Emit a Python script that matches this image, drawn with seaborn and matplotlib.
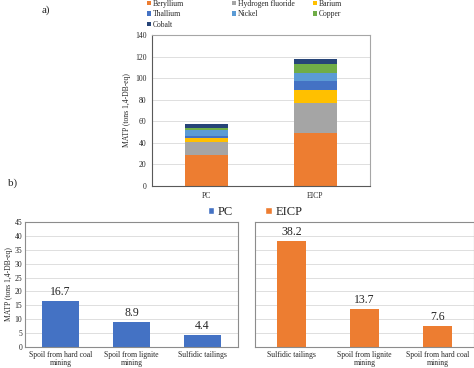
import matplotlib
matplotlib.use('Agg')
import matplotlib.pyplot as plt
import seaborn as sns
import numpy as np
from matplotlib.patches import Patch

# ---------------- data ----------------
scenarios = ['PC', 'EICP']
metals = ['Beryllium', 'Hydrogen fluoride', 'Barium', 'Thallium', 'Nickel', 'Copper', 'Cobalt']
pc_vals = [28.8, 12.1, 3.4, 1.8, 5.9, 2.2, 3.1]
eicp_vals = [49.5, 27.9, 11.8, 8.0, 7.4, 8.1, 4.9]
metal_colors = ['#ED7D31', '#A5A5A5', '#FFC000', '#4472C4', '#5B9BD5', '#70AD47', '#264478']

pc_sources = ['Spoil from hard coal\nmining', 'Spoil from lignite\nmining', 'Sulfidic tailings']
pc_source_vals = [16.7, 8.9, 4.4]
eicp_sources = ['Sulfidic tailings', 'Spoil from lignite\nmining', 'Spoil from hard coal\nmining']
eicp_source_vals = [38.2, 13.7, 7.6]
pc_color = '#4472C4'
eicp_color = '#ED7D31'
ylabel = 'MATP (tons 1,4-DB-eq)'

# ---------------- style ----------------
sns.set_theme(style='white')
plt.rcParams['font.family'] = ['Liberation Serif', 'DejaVu Serif']

W, H = 474, 368
fig = plt.figure(figsize=(W / 100, H / 100), dpi=100)

def fx(px):
    return px / W

def fy(py):
    return 1 - py / H

grid_c = '#D9D9D9'

# ---------------- panel a) ----------------
axa = fig.add_axes([fx(152), fy(186), fx(370) - fx(152), fy(35) - fy(186)])
cum = np.cumsum(np.array([pc_vals, eicp_vals]), axis=1)  # shape (2, 7)
for i in reversed(range(len(metals))):
    sns.barplot(x=scenarios, y=cum[:, i], color=metal_colors[i], saturation=1,
                width=0.4, ax=axa, linewidth=0)
axa.set_ylim(0, 140)
axa.set_yticks(range(0, 141, 20))
axa.set_xlim(-0.5, 1.5)
axa.yaxis.grid(True, color=grid_c, lw=0.6)
axa.set_axisbelow(True)
axa.tick_params(axis='both', length=0, labelsize=5.5)
axa.tick_params(axis='y', pad=4)
axa.tick_params(axis='x', pad=4)
axa.set_ylabel(ylabel, fontsize=5.5, labelpad=3)
for s in ['top', 'right']:
    axa.spines[s].set_color('#A6A6A6')
    axa.spines[s].set_linewidth(0.8)
for s in ['left', 'bottom']:
    axa.spines[s].set_color('#595959')
    axa.spines[s].set_linewidth(0.8)

# legend for panel a (three columns, Excel-like equal spacing)
col_x = [147, 232, 313]
col_items = [[0, 3, 6], [1, 4], [2, 5]]
for cx, items in zip(col_x, col_items):
    handles = [Patch(facecolor=metal_colors[k], edgecolor='none', label=metals[k]) for k in items]
    fig.legend(handles=handles, loc='upper left', bbox_to_anchor=(fx(cx), fy(0)),
               frameon=False, fontsize=5.5, handlelength=0.5, handleheight=0.5,
               handletextpad=0.3, labelspacing=0.3, borderpad=0, borderaxespad=0)

fig.text(fx(42), fy(10), 'a)', fontsize=8, va='center', ha='left')
fig.text(fx(8), fy(183), 'b)', fontsize=8, va='center', ha='left')

# ---------------- panel b) ----------------
bot, top = 347, 222
axl = fig.add_axes([fx(25), fy(bot), fx(238) - fx(25), fy(top) - fy(bot)])
axr = fig.add_axes([fx(255), fy(bot), fx(474) - fx(255), fy(top) - fy(bot)])

sns.barplot(x=pc_sources, y=pc_source_vals, color=pc_color, saturation=1,
            width=0.52, ax=axl, linewidth=0)
sns.barplot(x=eicp_sources, y=eicp_source_vals, color=eicp_color, saturation=1,
            width=0.4, ax=axr, linewidth=0)

for ax in (axl, axr):
    ax.set_ylim(0, 45)
    ax.set_yticks(range(0, 46, 5))
    ax.set_xlim(-0.5, 2.5)
    ax.yaxis.grid(True, color=grid_c, lw=0.6)
    ax.set_axisbelow(True)
    ax.tick_params(axis='both', length=0, labelsize=5.5)
    ax.tick_params(axis='y', pad=2)
    ax.tick_params(axis='x', pad=3)
    for s in ax.spines.values():
        s.set_color('#8C8C8C')
        s.set_linewidth(0.8)
    ax.bar_label(ax.containers[0], fmt='%.1f', fontsize=8.5, padding=2)
    for lab in ax.get_xticklabels():
        lab.set_linespacing(1.0)

axl.set_ylabel(ylabel, fontsize=5.5, labelpad=1)
axr.set_yticklabels([])
axr.set_ylabel('')

fig.legend(handles=[Patch(facecolor=pc_color, label='PC'), Patch(facecolor=eicp_color, label='EICP')],
           loc='center', bbox_to_anchor=(fx(255), fy(212)), ncol=2, frameon=False,
           fontsize=9, handlelength=0.5, handleheight=0.5, handletextpad=0.3,
           columnspacing=2.6, borderpad=0, borderaxespad=0)

fig.savefig('out.png', dpi=100)
